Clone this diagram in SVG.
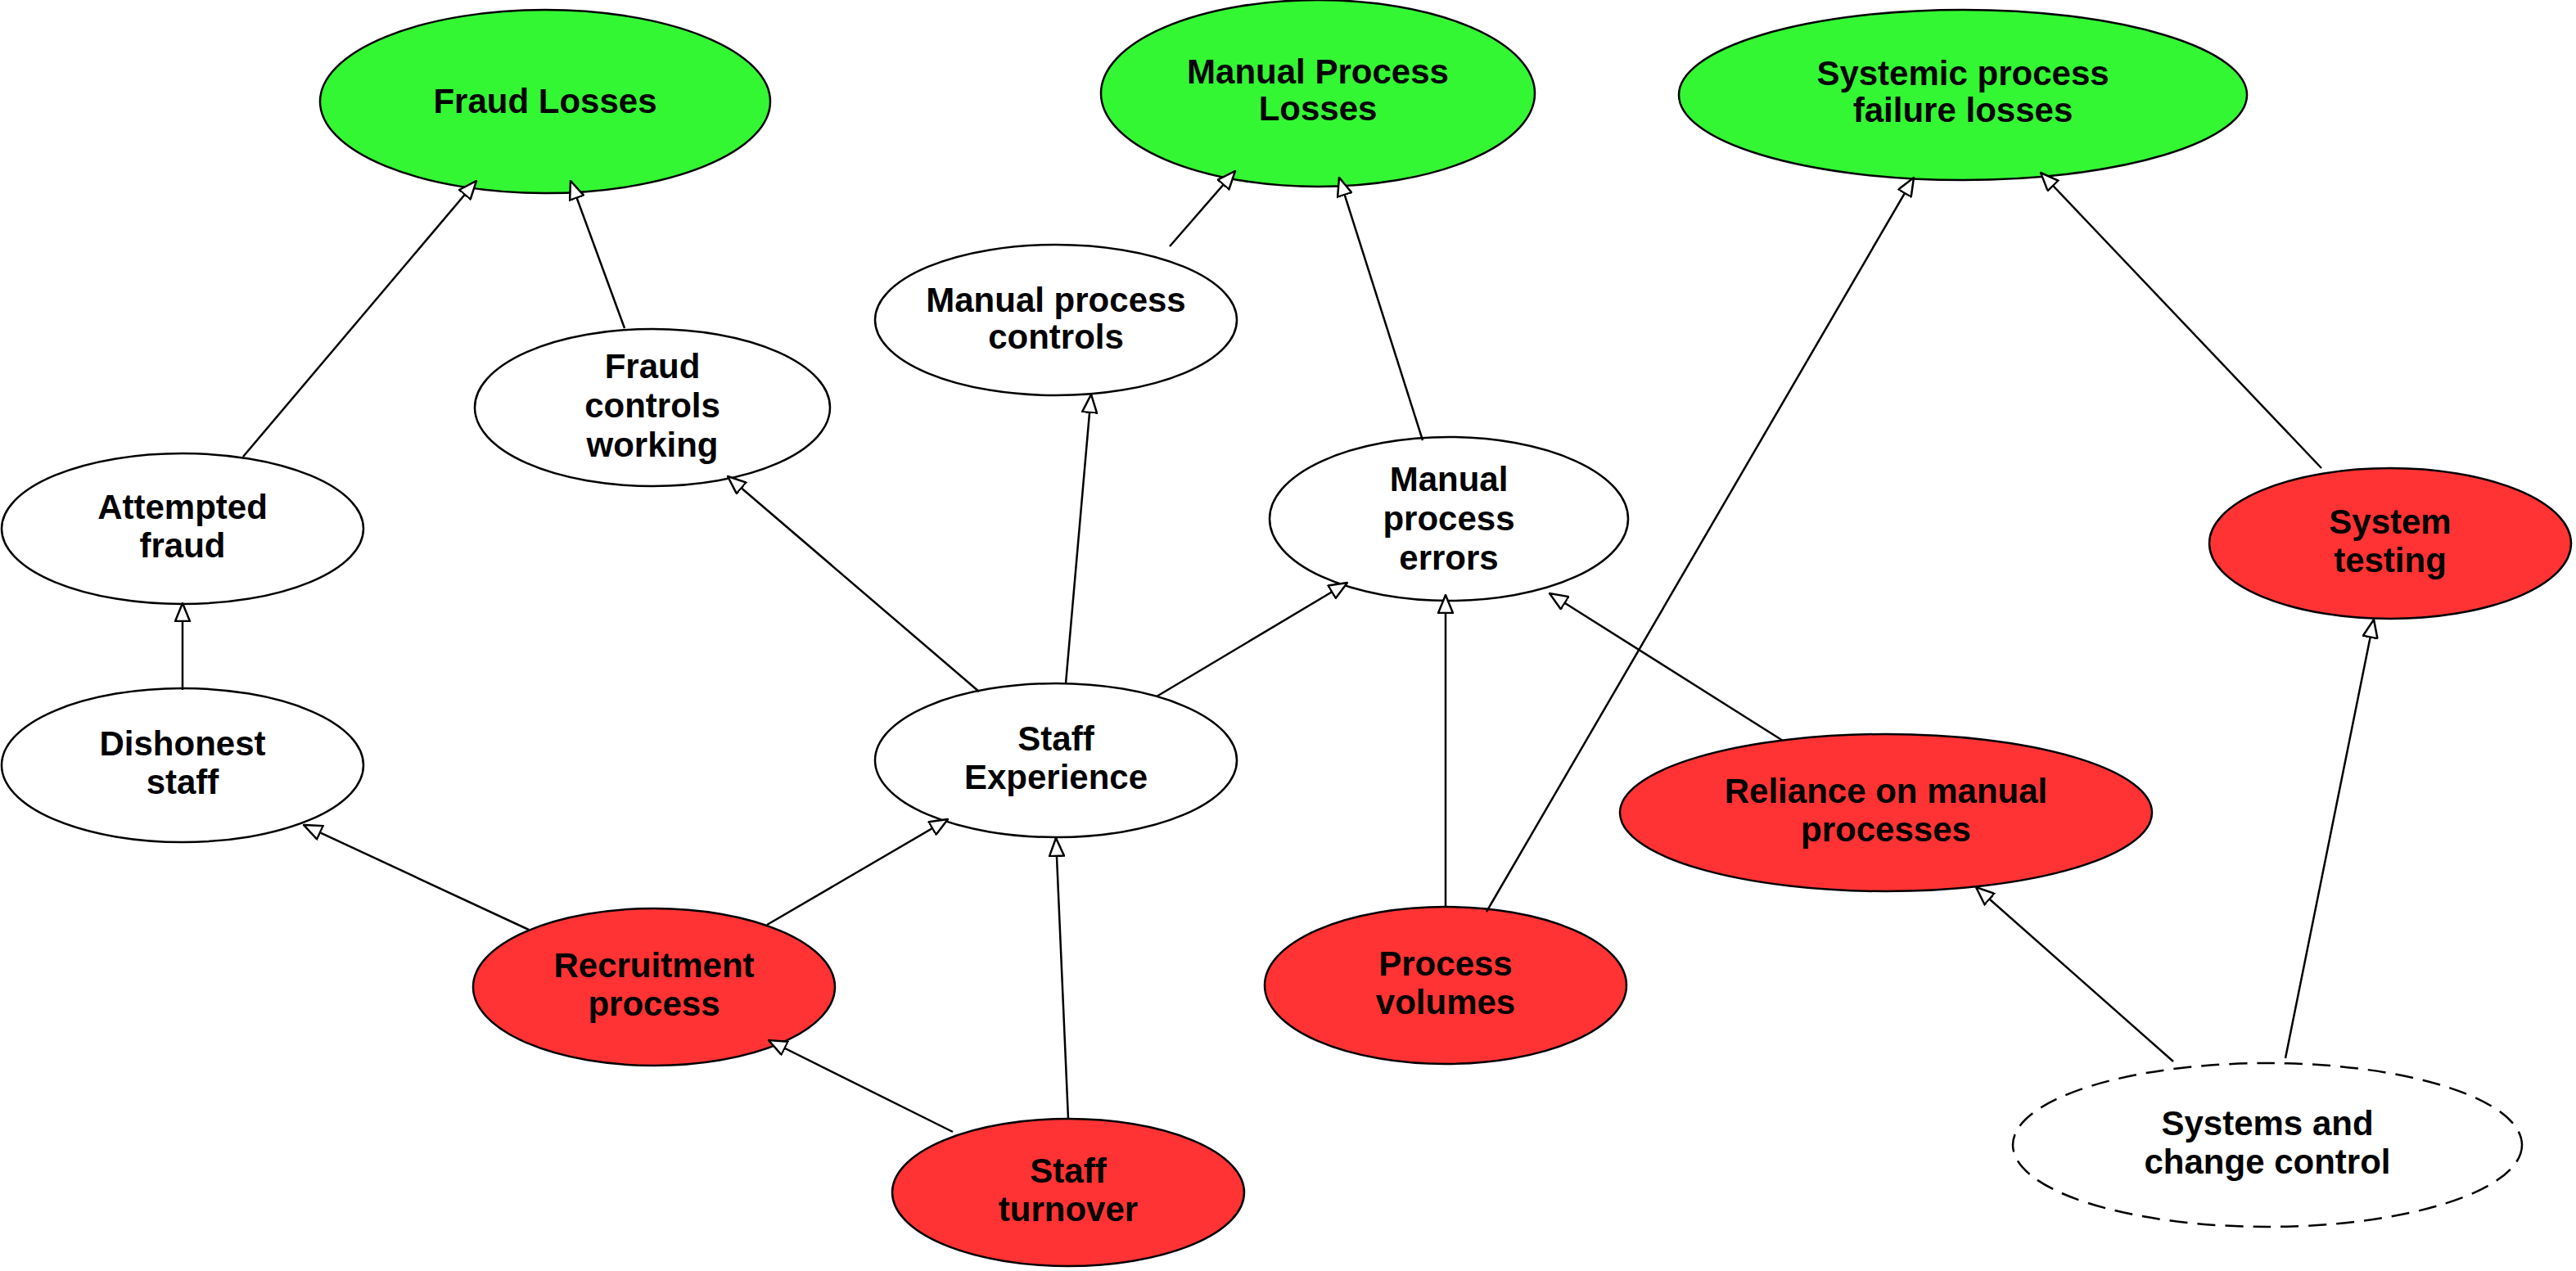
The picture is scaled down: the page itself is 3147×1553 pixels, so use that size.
<svg xmlns="http://www.w3.org/2000/svg" width="3147" height="1553" viewBox="0 0 3147 1553">
<style>
ellipse{stroke:#000;stroke-width:2.5}
.w{fill:#fff}.g{fill:#33f733}.r{fill:#ff3333}
.d{stroke-dasharray:22 12}
text{font-family:"Liberation Sans",Arial,sans-serif;font-weight:bold;font-size:42px;text-anchor:middle;fill:#000}
#edges line{stroke:#000;stroke-width:2.5;marker-end:url(#a)}
</style>
<defs><marker id="a" viewBox="0 0 24 20" refX="23" refY="10" markerWidth="24" markerHeight="20" markerUnits="userSpaceOnUse" orient="auto"><path d="M1,1L23,10L1,19Z" fill="#fff" stroke="#000" stroke-width="2.5"/></marker></defs>
<rect width="3147" height="1553" fill="#fff"/>
<g id="fraudLosses"><ellipse class="g" cx="666" cy="124" rx="275" ry="112"/><text x="666" y="138">Fraud Losses</text></g>
<g id="manualProcessLosses"><ellipse class="g" cx="1610" cy="114" rx="265" ry="114"/><text x="1610" y="102">Manual Process</text><text x="1610" y="147">Losses</text></g>
<g id="systemicLosses"><ellipse class="g" cx="2398" cy="116" rx="347" ry="104"/><text x="2398" y="104">Systemic process</text><text x="2398" y="149">failure losses</text></g>
<g id="manualProcessControls"><ellipse class="w" cx="1290" cy="391" rx="221" ry="92"/><text x="1290" y="381">Manual process</text><text x="1290" y="426">controls</text></g>
<g id="fraudControls"><ellipse class="w" cx="797" cy="498" rx="217" ry="96"/><text x="797" y="462">Fraud</text><text x="797" y="510">controls</text><text x="797" y="558">working</text></g>
<g id="attemptedFraud"><ellipse class="w" cx="223" cy="646" rx="221" ry="92"/><text x="223" y="634">Attempted</text><text x="223" y="681">fraud</text></g>
<g id="manualProcessErrors"><ellipse class="w" cx="1770" cy="634" rx="219" ry="100"/><text x="1770" y="600">Manual</text><text x="1770" y="648">process</text><text x="1770" y="696">errors</text></g>
<g id="systemTesting"><ellipse class="r" cx="2920" cy="664" rx="221" ry="92"/><text x="2920" y="652">System</text><text x="2920" y="699">testing</text></g>
<g id="dishonestStaff"><ellipse class="w" cx="223" cy="935" rx="221" ry="94"/><text x="223" y="923">Dishonest</text><text x="223" y="970">staff</text></g>
<g id="staffExperience"><ellipse class="w" cx="1290" cy="929" rx="221" ry="94"/><text x="1290" y="917">Staff</text><text x="1290" y="964">Experience</text></g>
<g id="reliance"><ellipse class="r" cx="2304" cy="993" rx="325" ry="96"/><text x="2304" y="981">Reliance on manual</text><text x="2304" y="1028">processes</text></g>
<g id="recruitment"><ellipse class="r" cx="799" cy="1206" rx="221" ry="96"/><text x="799" y="1194">Recruitment</text><text x="799" y="1241">process</text></g>
<g id="processVolumes"><ellipse class="r" cx="1766" cy="1204" rx="221" ry="96"/><text x="1766" y="1192">Process</text><text x="1766" y="1239">volumes</text></g>
<g id="staffTurnover"><ellipse class="r" cx="1305" cy="1457" rx="215" ry="90"/><text x="1305" y="1445">Staff</text><text x="1305" y="1492">turnover</text></g>
<g id="systemsChange"><ellipse class="w d" cx="2770" cy="1399" rx="311" ry="100"/><text x="2770" y="1387">Systems and</text><text x="2770" y="1434">change control</text></g>
<g id="edges">
<line x1="297" y1="558" x2="582" y2="221"/>
<line x1="763" y1="401" x2="697" y2="221"/>
<line x1="1429" y1="301" x2="1509" y2="209"/>
<line x1="1738" y1="538" x2="1636" y2="217"/>
<line x1="1816" y1="1114" x2="2338" y2="217"/>
<line x1="2836" y1="572" x2="2493" y2="211"/>
<line x1="223" y1="843" x2="223" y2="737"/>
<line x1="1196" y1="845" x2="889" y2="582"/>
<line x1="1302" y1="835" x2="1333" y2="482"/>
<line x1="1413" y1="851" x2="1646" y2="712"/>
<line x1="1766" y1="1108" x2="1766" y2="727"/>
<line x1="2178" y1="905" x2="1893" y2="725"/>
<line x1="646" y1="1136" x2="371" y2="1008"/>
<line x1="937" y1="1130" x2="1158" y2="1001"/>
<line x1="1305" y1="1367" x2="1290" y2="1024"/>
<line x1="1164" y1="1383" x2="939" y2="1271"/>
<line x1="2655" y1="1297" x2="2414" y2="1084"/>
<line x1="2792" y1="1293" x2="2900" y2="757"/>
</g>
</svg>
